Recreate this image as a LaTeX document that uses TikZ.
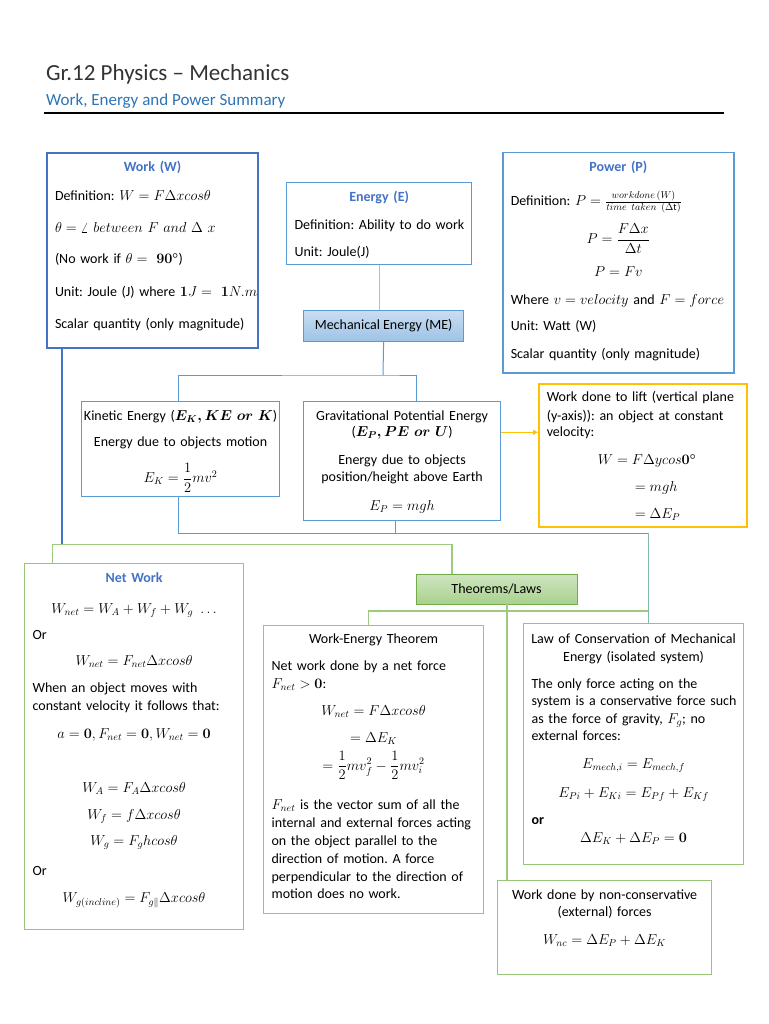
\documentclass[tikz,border=0pt]{standalone}
\usepackage{amsmath}
\usepackage{fontspec}
\setmainfont{Carlito}
\usepackage{tikz}
\usetikzlibrary{arrows.meta,positioning}
\definecolor{headblue}{HTML}{4472C4}
\definecolor{subblue}{HTML}{2E74B5}
\definecolor{edgeblue}{HTML}{5B9BD5}
\definecolor{paleblue}{HTML}{9DC3E6}
\definecolor{lightblue}{HTML}{C9DDF1}
\definecolor{edgegreen}{HTML}{70AD47}
\definecolor{palegreen}{HTML}{A9D18E}
\definecolor{lightgreen}{HTML}{CFE5C0}
\definecolor{amber}{HTML}{FFC000}
\frenchspacing
\newcommand\centred[1]{\makebox[\linewidth]{#1}}
\newcommand\flushed[1]{\makebox[\linewidth][l]{#1}}
\newcommand\headtxt[1]{\textcolor{headblue}{\bfseries #1}}
\tikzset{
  panel/.style={draw=#1,anchor=north west,align=left,inner xsep=8pt,
    inner ysep=0pt,font=\fontsize{14}{18}\selectfont,
    execute at begin node={\lineskiplimit=-100pt}},
  workbox/.style={panel=headblue,line width=2pt},
  bluebox/.style={panel=edgeblue,line width=1.2pt},
  greenbox/.style={panel=palegreen!70!edgegreen,line width=1.2pt},
  liftbox/.style={panel=amber,line width=1.5pt},
  bluehead/.style={draw=edgeblue,top color=lightblue,bottom color=paleblue,
    minimum width=160pt,minimum height=31pt,inner sep=0pt,
    font=\fontsize{14}{18}\selectfont},
  greenhead/.style={draw=edgegreen,top color=lightgreen,bottom color=palegreen,
    minimum width=161pt,minimum height=30pt,inner sep=0pt,
    font=\fontsize{14}{18}\selectfont},
  blueline/.style={draw=edgeblue,line width=1pt},
  paleline/.style={draw=paleblue,line width=1pt},
  workline/.style={draw=headblue,line width=1.5pt},
  greenline/.style={draw=palegreen!80!edgegreen,line width=1.1pt},
  fadeline/.style={draw=edgeblue!45!palegreen,line width=1pt},
  liftarrow/.style={-{Triangle[length=5pt,width=5pt]},draw=amber,line width=1pt}
}
\begin{document}
\begin{tikzpicture}[x=1pt,y=-1pt]
  \useasboundingbox (0,0) rectangle (768,1024);
  % heading
  \node[anchor=base west,inner sep=0pt,text=black!80,font=\fontsize{23}{27}\selectfont] (title) at (46,80.5) {Gr.12 Physics – Mechanics};
  \node[anchor=base west,inner sep=0pt,text=subblue,font=\fontsize{17}{20}\selectfont] (subtitle) at (46,106) {Work, Energy and Power Summary};
  \draw[line width=1.2pt] (44,113) -- (724,113);
  % top row
  \node[workbox,text width=195pt,text height=18.5pt,text depth=176.5pt] (work) at (46,152) {%
    \centred{\headtxt{Work (W)}}\\[11pt]
    \flushed{Definition: $W = F\Delta x cos\theta$}\\[14pt]
    \flushed{$\theta = \angle\ between\ F\ and\ \Delta\ x$}\\[13pt]
    \flushed{(No work if $\theta =\ \boldsymbol{90^{\circ}}$)}\\[14.7pt]
    \flushed{Unit: Joule (J) where $\boldsymbol{1}J =\ \boldsymbol{1}N.m$}\\[14.3pt]
    \flushed{Scalar quantity (only magnitude)}};
  \node[bluebox,text width=169pt,text height=18.5pt,text depth=63.5pt] (energy) at (286,182) {%
    \centred{\headtxt{Energy (E)}}\\[10pt]
    \flushed{Definition: Ability to do work}\\[9.7pt]
    \flushed{Unit: Joule(J)}};
  \node[bluehead,below=45pt of energy,xshift=4.5pt] (me) {Mechanical Energy (ME)};
  \node[bluebox,line width=1.5pt,text width=215pt,text height=19.2pt,text depth=200.8pt] (power) at (502,152) {%
    \centred{\headtxt{Power (P)}}\\[16pt]
    \flushed{Definition: $P = \frac{workdone\,(W)}{time\ taken\ (\Delta\mathrm{t})}$}\\[19.6pt]
    \centred{$P = \dfrac{F\Delta x}{\Delta t}$}\\[15.4pt]
    \centred{$P = Fv$}\\[9.6pt]
    \flushed{Where $v = velocity$ and $F = force$}\\[8.4pt]
    \flushed{Unit: Watt (W)}\\[9.6pt]
    \flushed{Scalar quantity (only magnitude)}};
  % energy forms
  \node[bluebox,text width=182pt,text height=18.5pt,text depth=76.5pt] (ke) at (81,401) {%
    \centred{Kinetic Energy ($\boldsymbol{E_K, KE\ or\ K}$)}\\[8.7pt]
    \centred{Energy due to objects motion}\\[17.6pt]
    \centred{$E_K = \dfrac{1}{2}mv^2$}};
  \node[bluebox,text width=181pt,text height=18.5pt,text depth=100.5pt] (gpe) at (303,401) {%
    \centred{Gravitational Potential Energy}\\[-1.3pt]
    \centred{($\boldsymbol{E_P, PE\ or\ U}$)}\\[9.6pt]
    \centred{Energy due to objects}\\[-0.6pt]
    \centred{position/height above Earth}\\[10.3pt]
    \centred{$E_P = mgh$}};
  \node[liftbox,text width=192pt,text height=18.2pt,text depth=124.8pt] (lift) at (538,383) {%
    \flushed{Work done to lift (vertical plane}\\[0.3pt]
    \flushed{(y-axis)): an object at constant}\\[-1.3pt]
    \flushed{velocity:}\\[9.6pt]
    \flushed{\hspace*{51pt}$W = F\Delta y cos\boldsymbol{0^{\circ}}$}\\[9.4pt]
    \flushed{\hspace*{88pt}$= mgh$}\\[8.6pt]
    \flushed{\hspace*{88pt}$= \Delta E_P$}};
  % work and laws
  \node[greenbox,text width=203pt,text height=18.5pt,text depth=347.5pt] (net) at (24,563) {%
    \centred{\headtxt{Net Work}}\\[13pt]
    \centred{$W_{net} = W_A + W_f + W_g\ \ldots$}\\[8.5pt]
    \flushed{Or}\\[8pt]
    \centred{$W_{net} = F_{net}\Delta x cos\theta$}\\[9pt]
    \flushed{When an object moves with}\\[0pt]
    \flushed{constant velocity it follows that:}\\[9.5pt]
    \centred{$a = \boldsymbol{0}, F_{net} = \boldsymbol{0}, W_{net} = \boldsymbol{0}$}\\[36.5pt]
    \centred{$W_A = F_A\Delta x cos\theta$}\\[8.5pt]
    \centred{$W_f = f\Delta x cos\theta$}\\[8pt]
    \centred{$W_g = F_g h cos\theta$}\\[12.5pt]
    \flushed{Or}\\[9pt]
    \centred{$W_{g(incline)} = F_{g\parallel}\Delta x cos\theta$}};
  \node[greenhead] (theorems) at (496.5,589) {Theorems/Laws};
  \node[greenbox,text width=204pt,text height=18pt,text depth=270pt] (we) at (263,625) {%
    \centred{Work-Energy Theorem}\\[9pt]
    \flushed{Net work done by a net force}\\[-0.5pt]
    \flushed{$F_{net} > \boldsymbol{0}$:}\\[9.5pt]
    \centred{$W_{net} = F\Delta x cos\theta$}\\[9pt]
    \centred{$= \Delta E_K$}\\[9.5pt]
    \centred{$= \dfrac{1}{2}mv_f^2 - \dfrac{1}{2}mv_i^2$}\\[21pt]
    \flushed{$F_{net}$ is the vector sum of all the}\\[0.5pt]
    \flushed{internal and external forces acting}\\[0pt]
    \flushed{on the object parallel to the}\\[-0.5pt]
    \flushed{direction of motion. A force}\\[0pt]
    \flushed{perpendicular to the direction of}\\[-1pt]
    \flushed{motion does no work.}};
  \node[greenbox,text width=204pt,text height=19.5pt,text depth=221.5pt] (law) at (523,623) {%
    \centred{Law of Conservation of Mechanical}\\[0pt]
    \centred{Energy (isolated system)}\\[9pt]
    \flushed{The only force acting on the}\\[-0.5pt]
    \flushed{system is a conservative force such}\\[-0.5pt]
    \flushed{as the force of gravity, $F_g$; no}\\[-1pt]
    \flushed{external forces:}\\[10pt]
    \centred{$E_{mech,i} = E_{mech,f}$}\\[11pt]
    \centred{$E_{Pi} + E_{Ki} = E_{Pf} + E_{Kf}$}\\[9.5pt]
    \flushed{\textbf{or}}\\[-0.5pt]
    \centred{$\Delta E_K + \Delta E_P = \boldsymbol{0}$}};
  \node[greenbox,text width=198pt,text height=18.8pt,text depth=75.2pt] (noncons) at (497,880) {%
    \centred{Work done by non-conservative}\\[-0.6pt]
    \centred{(external) forces}\\[9.3pt]
    \centred{$W_{nc} = \Delta E_P + \Delta E_K$}};
  % connectors
  \coordinate (mefork) at (383,375);
  \coordinate (netjoin) at (52.7,544.5);
  \coordinate (lawdrop) at (648,533);
  \coordinate (lawfork) at (648,611);
  \draw[paleline] (energy.south) -- (energy.south |- me.north);
  \draw[blueline] (me.south) -- (mefork);
  \draw[blueline] ([xshift=-2pt]ke.north) |- (mefork) -| ([xshift=14.5pt]gpe.north);
  \draw[workline] ([xshift=16pt]work.south west) -- ([xshift=16pt]work.south west |- netjoin);
  \draw[greenline] ([xshift=-44.5pt]theorems.north) |- (netjoin) -- (netjoin |- net.north);
  \draw[blueline] ([xshift=-2pt]ke.south) |- (lawdrop);
  \draw[blueline] ([xshift=-6.5pt]gpe.south) -- ([xshift=-6.5pt]gpe.south |- lawdrop);
  \draw[fadeline] (lawdrop) -- (lawdrop |- law.north);
  \draw[greenline] ([xshift=-5pt]we.north) |- (lawfork);
  \draw[greenline] ([xshift=10.5pt]theorems.south) -- ([xshift=10.5pt]theorems.south |- noncons.north);
  \draw[liftarrow] ([yshift=28.8pt]gpe.east) -- ([yshift=28.8pt]gpe.east -| lift.west);
\end{tikzpicture}
\end{document}
